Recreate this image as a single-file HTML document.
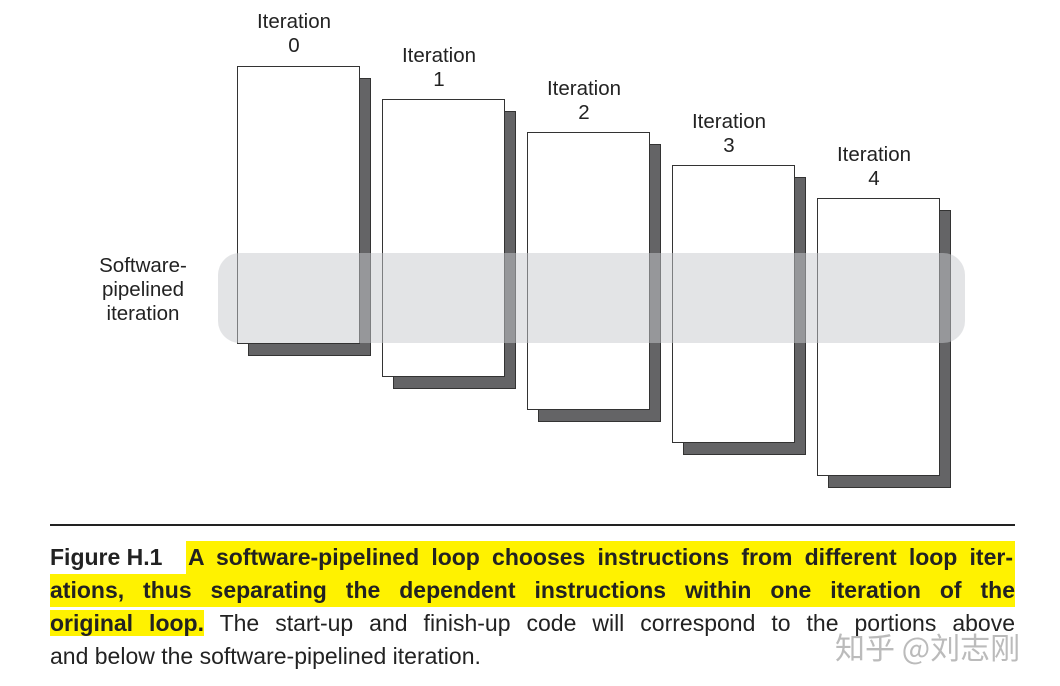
<!DOCTYPE html>
<html><head><meta charset="utf-8"><style>
body{margin:0;width:1060px;height:686px;background:#fff;position:relative;overflow:hidden;font-family:"Liberation Sans",sans-serif;}
.sh{position:absolute;width:123px;height:278px;background:#646466;border:1px solid #333;box-sizing:border-box;}
.bx{position:absolute;width:123px;height:278px;background:#fff;border:1.5px solid #333;box-sizing:border-box;}
.band{position:absolute;left:218px;top:253px;width:747px;height:90px;border-radius:22px;background:rgba(200,202,206,0.5);}
.lab{position:absolute;width:140px;text-align:center;font-size:20.5px;line-height:24px;color:#222;}
.cap{position:absolute;left:50px;width:965px;font-size:23px;color:#222;line-height:33px;}
.ln{position:absolute;left:0;width:965px;height:33px;white-space:nowrap;}
.j{text-align:justify;text-align-last:justify;white-space:normal;}
.hl{background:#fff200;}
b{font-weight:bold;}
</style></head><body>
<div class="sh" style="left:248px;top:78px"></div>
<div class="sh" style="left:393px;top:111px"></div>
<div class="sh" style="left:538px;top:144px"></div>
<div class="sh" style="left:683px;top:177px"></div>
<div class="sh" style="left:828px;top:210px"></div>
<div class="bx" style="left:237px;top:66px"></div>
<div class="bx" style="left:382px;top:99px"></div>
<div class="bx" style="left:527px;top:132px"></div>
<div class="bx" style="left:672px;top:165px"></div>
<div class="bx" style="left:817px;top:198px"></div>
<div class="band"></div>
<div class="lab" style="left:224px;top:10px">Iteration<br>0</div>
<div class="lab" style="left:369px;top:44px">Iteration<br>1</div>
<div class="lab" style="left:514px;top:77px">Iteration<br>2</div>
<div class="lab" style="left:659px;top:110px">Iteration<br>3</div>
<div class="lab" style="left:804px;top:143px">Iteration<br>4</div>
<div class="lab" style="left:73px;top:254px">Software-<br>pipelined<br>iteration</div>
<div style="position:absolute;left:50px;top:524px;width:965px;height:2px;background:#222"></div>
<div class="cap" style="top:541px;">
<div class="ln" style="top:0;display:flex"><b style="width:136px;display:inline-block">Figure H.1</b><div class="j hl" style="flex:1;padding:0 2px"><b>A software-pipelined loop chooses instructions from different loop iter-</b></div></div>
<div class="ln j hl" style="top:33px"><b>ations, thus separating the dependent instructions within one iteration of the</b></div>
<div class="ln j" style="top:66px"><b class="hl">original loop.</b> The start-up and finish-up code will correspond to the portions above</div>
<div class="ln" style="top:99px">and below the software-pipelined iteration.</div>
</div>
<div style="position:absolute;left:835px;top:624px;font-family:'Noto Sans CJK SC',sans-serif;font-size:30px;color:rgba(170,170,170,0.8);">知乎 @刘志刚</div>
</body></html>
